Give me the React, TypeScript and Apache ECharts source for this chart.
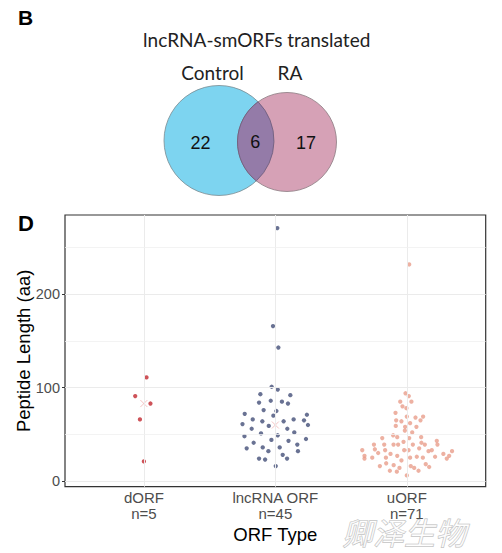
import React, { useEffect, useRef } from "react";
import * as echarts from "echarts";

// ---------- Venn (panel B) ----------
const vennTitle = "lncRNA-smORFs translated";
const vennSets = ["Control", "RA"];
const vennCounts = [22, 6, 17]; // only Control, both, only RA

// ---------- Scatter (panel D) ----------
const groups = ["dORF", "lncRNA ORF", "uORF"];
const groupN = ["n=5", "n=45", "n=71"];
const yTicks = [0, 100, 200];
const yGridMajor = [0, 100, 200];
const yGridMinor = [50, 150, 250];

const dorfLength = [111, 91, 83, 66, 21];
const dorfJitter = [0.02, -0.066, 0.05, -0.03, 0.0];

const lncLength = [271, 166, 143, 101, 98, 93, 92, 84, 86, 85, 83, 76, 75, 72, 71, 70, 66, 64, 64, 66, 65, 61, 60, 59, 56, 56, 51, 52, 49, 48, 44, 43, 45, 41, 39, 36, 36, 35, 32, 32, 28, 24, 23, 24, 16];
const lncJitter = [0.015, -0.018, 0.023, -0.028, 0.018, -0.114, 0.114, -0.124, -0.035, 0.05, 0.096, -0.089, 0.008, -0.233, 0.24, -0.015, -0.172, -0.099, 0.063, 0.139, 0.218, -0.25, 0.248, -0.05, -0.18, 0.091, -0.109, 0.144, 0.018, -0.235, -0.03, 0.1, 0.233, -0.165, 0.167, -0.096, 0.033, -0.218, -0.053, 0.172, 0.056, -0.124, -0.078, 0.089, 0.003];

const uorfLength = [232, 94, 91, 85, 85, 80, 78, 73, 68, 69, 69, 65, 64, 65, 62, 59, 58, 58, 52, 54, 49, 47, 46, 47, 46, 43, 41, 39, 39, 39, 39, 42, 39, 39, 39, 34, 33, 33, 33, 35, 32, 33, 33, 32, 30, 29, 27, 26, 25, 26, 29, 27, 27, 24, 25, 25, 22, 25, 24, 19, 17, 16, 14, 18, 15, 16, 11, 10, 14, 11, 6];
const uorfJitter = [0.018, -0.01, 0.015, -0.05, 0.035, -0.033, -0.003, -0.086, 0.066, 0.124, 0, -0.081, -0.041, 0.104, 0.025, -0.084, -0.013, 0.073, 0.041, -0.015, -0.104, -0.073, 0.018, 0.109, -0.187, 0.228, 0.111, -0.25, -0.172, -0.101, -0.066, -0.025, 0.046, 0.137, 0.233, -0.243, -0.165, -0.02, 0.013, 0.094, 0.165, 0.19, -0.339, 0.344, -0.218, -0.124, -0.073, 0.076, 0.122, 0.215, 0.278, 0.322, -0.322, -0.322, -0.263, -0.159, -0.041, 0.025, 0.304, -0.157, -0.1, 0.03, 0.056, 0.144, 0.17, -0.205, -0.129, -0.076, -0.056, 0.089, 0];

const medianValues = [83, 60];

// ---------- geometry / styles ----------
const C1 = { cx: 219, cy: 140.5, r: 55 };
const C2 = { cx: 287, cy: 142, r: 49.5 };

function lensPath(): string {
  const dx = C2.cx - C1.cx, dy = C2.cy - C1.cy;
  const d = Math.sqrt(dx * dx + dy * dy);
  const a = (C1.r * C1.r - C2.r * C2.r + d * d) / (2 * d);
  const h = Math.sqrt(C1.r * C1.r - a * a);
  const ux = dx / d, uy = dy / d;
  const px = C1.cx + a * ux, py = C1.cy + a * uy;
  const tx = px + h * uy, ty = py - h * ux; // top
  const bx = px - h * uy, by = py + h * ux; // bottom
  return `M${tx} ${ty} A${C1.r} ${C1.r} 0 0 1 ${bx} ${by} A${C2.r} ${C2.r} 0 0 1 ${tx} ${ty} Z`;
}

let registered = false;
function ensureShape() {
  if (registered) return;
  echarts.graphic.registerShape("vennLens", echarts.graphic.extendPath(lensPath(), {}));
  registered = true;
}

const pts = (len: number[], jit: number[], gi: number) => len.map((v, i) => [gi + 1 + jit[i], v]);

export default function App() {
  const ref = useRef<HTMLDivElement>(null);
  useEffect(() => {
    ensureShape();
    const chart = echarts.init(ref.current!, null, { renderer: "svg" });
    const labelFont = "Liberation Sans";
    const vennFont = "Lato";
    const option: any = {
      animation: false,
      backgroundColor: "#ffffff",
      grid: {
        left: 65, right: 16.3, top: 215, bottom: 66.3,
        show: true, borderColor: "#333333", borderWidth: 1.2, backgroundColor: "#ffffff",
      },
      xAxis: {
        type: "value", min: 0.4, max: 3.6,
        axisLine: { show: false },
        splitLine: { show: false },
        axisTick: { show: true, customValues: [1, 2, 3], length: 3, lineStyle: { color: "#333" } },
        axisLabel: {
          customValues: [1, 2, 3],
          formatter: (v: number) => `${groups[Math.round(v) - 1]}\n${groupN[Math.round(v) - 1]}`,
          color: "#4d4d4d", fontSize: 15, lineHeight: 16, margin: 3, fontFamily: labelFont,
        },
        name: "ORF Type", nameLocation: "middle", nameGap: 38, nameMoveOverlap: false,
        nameTextStyle: { color: "#000", fontSize: 18.5, fontFamily: labelFont },
      },
      yAxis: {
        type: "value", min: -6.1, max: 285,
        axisLine: { show: false },
        splitLine: { show: false },
        axisTick: { show: true, customValues: yTicks, length: 3, lineStyle: { color: "#333" } },
        axisLabel: { customValues: yTicks, color: "#4d4d4d", fontSize: 14.5, margin: 5, fontFamily: labelFont },
        name: "Peptide Length (aa)", nameLocation: "middle", nameGap: 32.5, nameRotate: 90, nameMoveOverlap: false,
        nameTextStyle: { color: "#000", fontSize: 18.5, fontFamily: labelFont },
      },
      series: [
        {
          type: "scatter", data: [], z: 1, silent: true,
          markLine: {
            silent: true, symbol: "none", label: { show: false },
            lineStyle: { color: "#ebebeb", width: 1, type: "solid" },
            data: [
              ...yGridMajor.map((v) => ({ yAxis: v })),
              ...groups.map((_, i) => ({ xAxis: i + 1 })),
              ...yGridMinor.map((v) => ({ yAxis: v, lineStyle: { color: "#f0f0f0", width: 0.8, type: "solid" } })),
            ],
          },
        },
        {
          type: "scatter", name: "medians", z: 2, silent: true,
          symbol: "path://M0,0L10,10M10,0L0,10", symbolSize: 7,
          itemStyle: { color: "none", borderColor: "#f2b4b4", borderWidth: 1 },
          data: medianValues.map((v, i) => [i + 1, v]),
        },
        {
          type: "scatter", name: groups[0], z: 3, symbolSize: 4.3,
          itemStyle: { color: "#c22830" }, data: pts(dorfLength, dorfJitter, 0),
        },
        {
          type: "scatter", name: groups[1], z: 3, symbolSize: 4.3,
          itemStyle: { color: "#434f78" }, data: pts(lncLength, lncJitter, 1),
        },
        {
          type: "scatter", name: groups[2], z: 3, symbolSize: 4.3,
          itemStyle: { color: "#e89d8b" }, data: pts(uorfLength, uorfJitter, 2),
        },
      ],
      graphic: [
        { type: "text", left: 18, top: 7, style: { text: "B", fontSize: 21, fontWeight: "bold", fontFamily: labelFont, fill: "#000" } },
        { type: "text", left: 18, top: 212, style: { text: "D", fontSize: 22, fontWeight: "bold", fontFamily: labelFont, fill: "#000" } },
        { type: "text", x: 256.7, y: 39, style: { text: vennTitle, fontSize: 19, fontFamily: vennFont, fill: "#222", align: "center", verticalAlign: "middle" } },
        { type: "text", x: 212.5, y: 72.5, style: { text: vennSets[0], fontSize: 19, fontFamily: vennFont, fill: "#222", align: "center", verticalAlign: "middle" } },
        { type: "text", x: 290, y: 72.5, style: { text: vennSets[1], fontSize: 19, fontFamily: vennFont, fill: "#222", align: "center", verticalAlign: "middle" } },
        { type: "circle", shape: { cx: C1.cx, cy: C1.cy, r: C1.r }, style: { fill: "#7dd4f0", stroke: "#7a8a90", lineWidth: 0.8 } },
        { type: "circle", shape: { cx: C2.cx, cy: C2.cy, r: C2.r }, style: { fill: "#d6a1b6", stroke: "#8a7a80", lineWidth: 0.8 } },
        { type: "vennLens", style: { fill: "#947ba8", stroke: "#6a5a78", lineWidth: 0.8 } },
        { type: "text", x: 200.5, y: 142.5, style: { text: String(vennCounts[0]), fontSize: 18, fontFamily: labelFont, fill: "#111", align: "center", verticalAlign: "middle" } },
        { type: "text", x: 255.3, y: 141.5, style: { text: String(vennCounts[1]), fontSize: 18, fontFamily: labelFont, fill: "#111", align: "center", verticalAlign: "middle" } },
        { type: "text", x: 306, y: 142.5, style: { text: String(vennCounts[2]), fontSize: 18, fontFamily: labelFont, fill: "#111", align: "center", verticalAlign: "middle" } },
        { type: "text", x: 404, y: 531, z: 100, style: { text: "卿泽生物", fontSize: 31, fontStyle: "italic", fontFamily: "Noto Sans CJK SC", fill: "rgba(255,255,255,0.55)", stroke: "#b8b8b8", lineWidth: 0.8, align: "center", verticalAlign: "middle" } },
      ],
    };
    chart.setOption(option);
    return () => chart.dispose();
  }, []);
  return <div ref={ref} style={{ position: "fixed", left: 0, top: 0, width: 502, height: 553 }} />;
}
